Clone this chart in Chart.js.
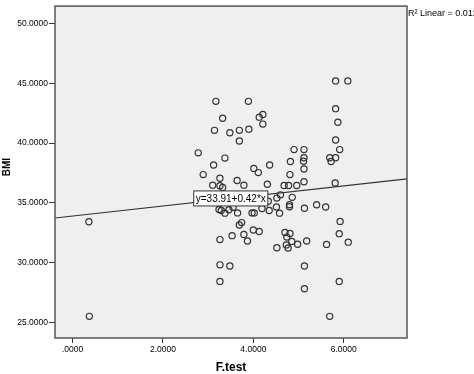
<!DOCTYPE html>
<html>
<head>
<meta charset="utf-8">
<script src="https://cdn.jsdelivr.net/npm/chart.js@4"></script>
<style>
  html, body { margin: 0; padding: 0; background: #fff; }
  canvas { display: block; }
</style>
</head>
<body>
<canvas id="scatter" width="474" height="374"></canvas>
<script>
// values
var fTest = [0.37, 0.36, 3.17, 3.89, 3.32, 4.13, 4.21, 4.21, 3.14, 3.48, 3.69, 3.90, 3.69,
  2.78, 3.37, 3.12, 2.89, 3.26, 3.64, 3.79, 3.10, 3.26, 3.32, 4.01, 4.11, 4.36, 4.31,
  3.24, 3.29, 3.37, 3.46, 3.55, 3.65, 3.97, 4.02, 3.74, 3.69, 3.53, 3.79, 3.87, 4.00, 4.13,
  3.26, 3.26, 3.48, 3.26, 4.19, 4.35, 4.51, 4.58, 4.33, 4.52, 4.60, 4.90, 5.12, 5.12, 5.11,
  4.82, 5.12, 4.81, 5.12, 4.68, 4.78, 4.96, 4.86, 4.80, 4.80, 5.13, 5.40, 5.60, 4.70, 4.81,
  4.74, 4.85, 4.73, 4.77, 4.98, 5.18, 4.52, 5.62, 5.13, 5.13, 5.82, 6.09, 5.82, 5.87, 5.82,
  5.91, 5.69, 5.72, 5.82, 5.81, 5.92, 5.90, 6.10, 5.90, 5.69];
var bmi = [25.53, 33.43, 43.49, 43.49, 42.08, 42.17, 42.39, 41.59, 41.07, 40.87, 41.07, 41.17, 40.18,
  39.19, 38.75, 38.17, 37.37, 37.07, 36.88, 36.49, 36.49, 36.44, 36.30, 37.89, 37.54, 38.17, 36.57,
  34.45, 34.37, 34.15, 34.44, 34.64, 34.17, 34.17, 34.17, 33.36, 33.16, 32.27, 32.37, 31.83, 32.74, 32.62,
  31.94, 29.83, 29.73, 28.45, 34.54, 34.37, 34.67, 34.15, 35.14, 35.41, 35.68, 39.46, 39.46, 38.78, 38.49,
  38.47, 37.84, 37.37, 36.78, 36.46, 36.46, 36.46, 35.47, 34.85, 34.69, 34.56, 34.85, 34.66, 32.54, 32.45,
  32.15, 31.79, 31.50, 31.24, 31.55, 31.83, 31.26, 31.54, 29.74, 27.83, 45.20, 45.20, 42.88, 41.75, 40.26,
  39.46, 38.78, 38.47, 38.78, 36.67, 33.46, 32.44, 31.73, 28.45, 25.53];

var xTicks = [0, 2, 4, 6];
var xTickLabels = ['.0000', '2.0000', '4.0000', '6.0000'];
var yTicks = [25, 30, 35, 40, 45, 50];
var yTickLabels = ['25.0000', '30.0000', '35.0000', '40.0000', '45.0000', '50.0000'];
var xRange = [-0.39, 7.40];
var yRange = [23.72, 51.45];

// fit line shown in the picture
var fitIntercept = 33.91;
var fitSlope = 0.42;
var fitLabelAt = 3.5;
var fitText = 'y=33.91+0.42*x';
var r2Text = 'R\u00B2 Linear = 0.012';

var FONT = '"Liberation Sans", Arial, sans-serif';

var points = [];
for (var i = 0; i < Math.min(fTest.length, bmi.length); i++) {
  points.push({ x: fTest[i], y: bmi[i] });
}
function fit(x) { return fitIntercept + fitSlope * x; }
var fitLine = [
  { x: xRange[0], y: fit(xRange[0]) },
  { x: xRange[1], y: fit(xRange[1]) }
];

// grey plot area, frame, equation box, R2 note, y title
var frame = {
  id: 'frame',
  beforeDraw: function (chart) {
    var ctx = chart.ctx, a = chart.chartArea;
    ctx.save();
    ctx.fillStyle = '#efefef';
    ctx.fillRect(a.left, a.top, a.right - a.left, a.bottom - a.top);
    ctx.restore();
  },
  afterDraw: function (chart) {
    var ctx = chart.ctx, a = chart.chartArea;
    var sx = chart.scales.x, sy = chart.scales.y;
    ctx.save();
    ctx.strokeStyle = '#555';
    ctx.lineWidth = 1.5;
    ctx.strokeRect(a.left, a.top, a.right - a.left, a.bottom - a.top);

    // equation box on the line
    ctx.font = '10px ' + FONT;
    var w = ctx.measureText(fitText).width + 4;
    var h = 15;
    var cx = sx.getPixelForValue(fitLabelAt);
    var cy = sy.getPixelForValue(fit(fitLabelAt));
    ctx.fillStyle = '#fff';
    ctx.fillRect(cx - w / 2, cy - h / 2, w, h);
    ctx.strokeStyle = '#333';
    ctx.lineWidth = 1;
    ctx.strokeRect(cx - w / 2, cy - h / 2, w, h);
    ctx.fillStyle = '#000';
    ctx.textAlign = 'center';
    ctx.textBaseline = 'middle';
    ctx.fillText(fitText, cx, cy + 0.5);

    // R2 note outside the frame, top right
    ctx.font = '9px ' + FONT;
    ctx.textAlign = 'left';
    ctx.fillText(r2Text, a.right + 1, a.top + 7);

    // y axis title, a little above the middle like the original
    ctx.font = 'bold 10px ' + FONT;
    ctx.translate(7, (a.top + a.bottom) / 2 - 5);
    ctx.rotate(-Math.PI / 2);
    ctx.textAlign = 'center';
    ctx.fillText('BMI', 0, 0);
    ctx.restore();
  }
};

window.addEventListener('load', function () {
  var canvas = document.getElementById('scatter');
  if (!canvas) return;
  var tickFont = { family: FONT, size: 8.5 };

  new Chart(canvas.getContext('2d'), {
    type: 'scatter',
    data: {
      datasets: [{
        type: 'line',
        data: fitLine,
        borderColor: '#333',
        borderWidth: 1.2,
        pointRadius: 0,
        fill: false
      }, {
        data: points,
        pointStyle: 'circle',
        pointRadius: 3.1,
        pointBorderWidth: 1.2,
        pointBackgroundColor: 'rgba(0,0,0,0)',
        pointBorderColor: '#333'
      }]
    },
    options: {
      responsive: false,
      animation: false,
      devicePixelRatio: 1,
      layout: { padding: { left: 0, top: 3, right: 67, bottom: 0 } },
      plugins: { legend: { display: false }, tooltip: { enabled: false } },
      scales: {
        x: {
          type: 'linear',
          min: xRange[0],
          max: xRange[1],
          afterBuildTicks: function (s) { s.ticks = xTicks.map(function (v) { return { value: v }; }); },
          afterFit: function (s) { s.height = 36; },
          grid: { drawOnChartArea: false, drawTicks: true, tickLength: 5, color: '#333' },
          border: { display: false },
          ticks: {
            font: tickFont, color: '#000', padding: 2, maxRotation: 0,
            callback: function (v, i) { return xTickLabels[i]; }
          },
          title: {
            display: true, text: 'F.test', color: '#000',
            font: { family: FONT, size: 12, weight: 'bold', lineHeight: 1 },
            padding: { top: 0, bottom: 0 }
          }
        },
        y: {
          type: 'linear',
          min: yRange[0],
          max: yRange[1],
          afterBuildTicks: function (s) { s.ticks = yTicks.map(function (v) { return { value: v }; }); },
          afterFit: function (s) { s.width = 55; },
          grid: { drawOnChartArea: false, drawTicks: true, tickLength: 6, color: '#333' },
          border: { display: false },
          ticks: {
            font: tickFont, color: '#000', padding: 1,
            callback: function (v, i) { return yTickLabels[i]; }
          },
          title: { display: false }
        }
      }
    },
    plugins: [frame]
  });
});
</script>
</body>
</html>
